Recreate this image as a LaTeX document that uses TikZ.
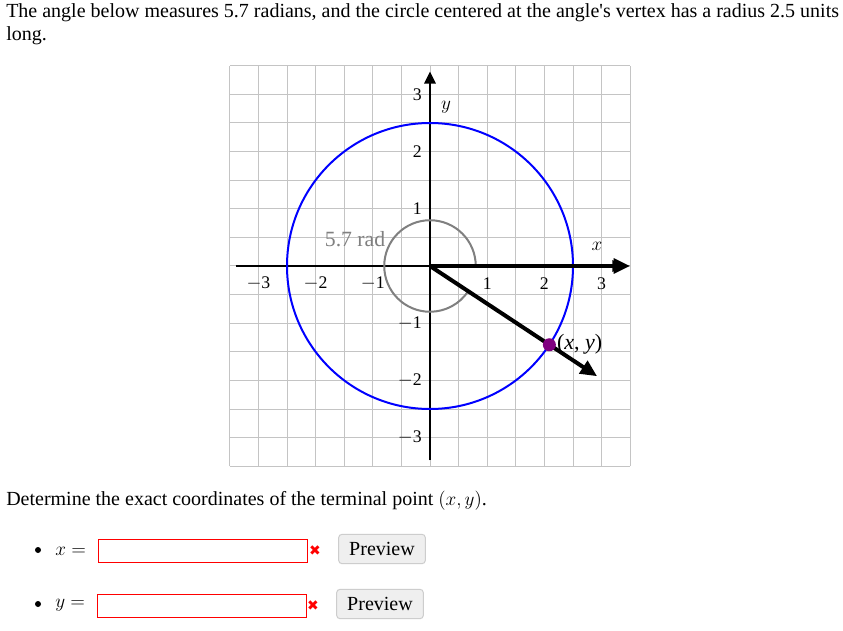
\documentclass[tikz,border=0pt]{standalone}
\usepackage{fontspec}
\setmainfont{Liberation Serif}
\newfontfamily\symfont{DejaVu Sans}
\usetikzlibrary{arrows.meta,positioning}

\definecolor{gridgray}{HTML}{C4C4C4}
\definecolor{dotpurple}{HTML}{800080}
\definecolor{btnfill}{HTML}{EFEFEF}
\definecolor{btnline}{HTML}{CDCDCD}

\tikzset{
  gridline/.style={gridgray, line width=0.75pt},
  axisline/.style={black, line width=1.5pt, -{Triangle[length=9pt,width=8.5pt]}},
  rayline/.style={black, line width=3pt, -{Triangle[length=12.5pt,width=11pt]}},
  ticklabel/.style={font=\fontsize{13.3}{15}\selectfont, inner sep=0pt},
  bodytext/.style={font=\fontsize{15}{18}\selectfont, inner sep=0pt, anchor=base west},
  answerbox/.style={draw=red, line width=0.75pt, minimum width=156.75pt, minimum height=17.25pt, inner sep=0pt},
  previewbtn/.style={draw=btnline, fill=btnfill, line width=0.75pt, rounded corners=2.5pt,
    minimum width=65pt, minimum height=22pt, inner sep=0pt, font=\fontsize{15}{18}\selectfont},
  wrongmark/.style={text=red, font=\symfont\fontsize{10.5}{12}\selectfont, inner sep=0pt},
}

\begin{document}
\begin{tikzpicture}[x=0.75pt, y=0.75pt]
\useasboundingbox[fill=white] (0,0) rectangle (843,-631);

% question text
\node[bodytext] (title1) at (6,-18) {The angle below measures 5.7 radians, and the circle centered at the angle\textquotesingle s vertex has a radius 2.5 units};
\node[bodytext] (title2) at (6,-41) {long.};

% the graph
\begin{scope}[shift={(430,-266)}, x=42.9pt, y=42.9pt]
  \draw[gridline] (-3.5,-3.5) grid[step=0.5] (3.5,3.5);

  \coordinate (O) at (0,0);
  \coordinate (xstart) at (-3.4,0);
  \coordinate (xend) at (3.4,0);
  \coordinate (ystart) at (0,-3.4);
  \coordinate (yend) at (0,3.4);
  \draw[axisline] (xstart) -- (xend);
  \draw[axisline] (ystart) -- (yend);

  \foreach \t/\s in {-3/{$-$3},-2/{$-$2},-1/{$-$1},1/1,2/2,3/3}{
    \node[ticklabel] (xtick\t) at (\t,-0.31) {\s};
    \node[ticklabel, anchor=east] (ytick\t) at (-0.14,\t) {\s};
  }
  \node[font=\fontsize{15}{17}\selectfont] (xlabel) at (2.92,0.34) {$x$};
  \node[font=\fontsize{15}{17}\selectfont] (ylabel) at (0.28,2.77) {$y$};

  % circle of radius 2.5
  \draw[blue, line width=1.5pt] (O) circle[radius=2.5];

  % angle mark
  \draw[gray, line width=1.5pt] (0.8,0) arc[start angle=0, end angle=326.59, radius=0.8];
  \node[gray, font=\fontsize{16.3}{18}\selectfont, inner sep=0pt] (anglelabel) at (-1.31,0.47) {5.7 rad};

  % sides of the angle
  \coordinate (initend) at (3.5,0);
  \coordinate (termend) at (326.59:3.5);
  \draw[rayline] (O) -- (initend);
  \draw[rayline] (O) -- (termend);

  \node[circle, fill=dotpurple, inner sep=0pt, minimum size=9.75pt] (P) at (326.59:2.5) {};
  \node[right=0.5pt of P, font=\fontsize{16.5}{18}\selectfont, inner sep=0pt] (Plabel) {(\textit{x}, \textit{y})};
\end{scope}

\node[bodytext] (determine) at (6,-505) {Determine the exact coordinates of the terminal point $(x,y)$.};

% answer rows
\node[circle, fill=black, inner sep=0pt, minimum size=4.5pt] (bullet1) at (38,-550) {};
\node[circle, fill=black, inner sep=0pt, minimum size=4.5pt] (bullet2) at (38,-604) {};
\node[anchor=west, inner sep=0pt, font=\fontsize{15}{17}\selectfont] (xeq) at (55,-551) {$x=$};
\node[anchor=west, inner sep=0pt, font=\fontsize{15}{17}\selectfont] (yeq) at (55,-605) {$y=$};
\node[answerbox] (box1) at (202.5,-550.8) {};
\node[answerbox] (box2) at (202,-605.7) {};
\node[wrongmark] (mark1) at (315,-551) {✖};
\node[wrongmark] (mark2) at (313,-606) {✖};
\node[previewbtn] (btn1) at (382,-549) {Preview};
\node[previewbtn] (btn2) at (380,-604) {Preview};
\end{tikzpicture}
\end{document}
